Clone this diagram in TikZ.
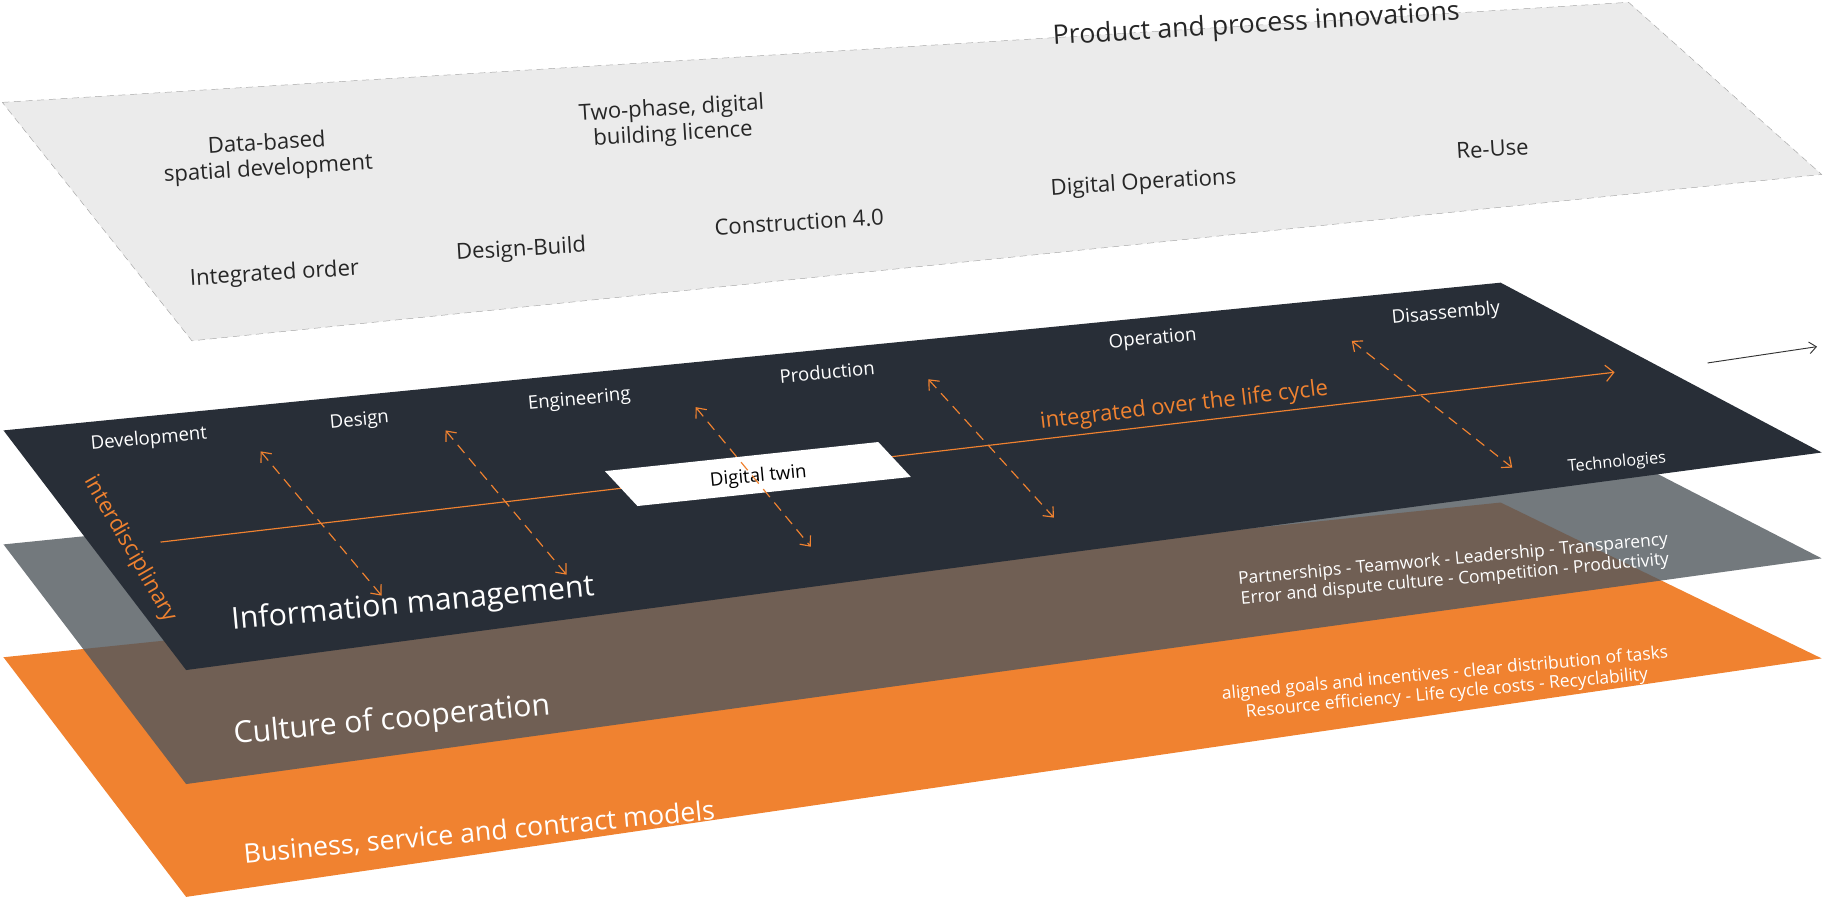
\documentclass[tikz,border=0pt]{standalone}
\usepackage{fontspec}
\setmainfont{Open Sans}
\usetikzlibrary{arrows.meta}
\definecolor{dark}{HTML}{282E37}
\definecolor{org}{HTML}{F08230}
\definecolor{gpl}{HTML}{50575D}
\definecolor{top}{HTML}{EBEBEB}
\begin{document}
\begin{tikzpicture}[x=1pt,y=-1pt,
 tl/.style={font=\fontsize{19}{22}\selectfont, text=black!85, align=center, rotate=3.5},
 st/.style={font=\fontsize{16}{18}\selectfont, text=white, rotate=5.3},
 big/.style={font=\fontsize{26}{30}\selectfont, text=white, rotate=5.3},
 sm/.style={font=\fontsize{15}{17}\selectfont, text=white, align=center, rotate=5.3},
 da/.style={org, dash pattern=on 9pt off 6pt, line width=1pt, {Straight Barb[length=7pt,width=12pt]}-{Straight Barb[length=7pt,width=12pt]}}]
\useasboundingbox (0,0) rectangle (1568,794);
% orange plane
\fill[org] (3,565) -- (1290,432) -- (1566,566) -- (160,771) -- cycle;
% gray plane
\fill[gpl, opacity=0.8] (3,468) -- (1290,338) -- (1566,480) -- (160,674) -- cycle;
% dark plane
\fill[dark] (3,370) -- (1290,243) -- (1566,389) -- (160,576) -- cycle;
% top plane
\draw[fill=top, draw=black!35, dashed, dash pattern=on 6pt off 4pt] (2,88) -- (1400,2) -- (1566,150) -- (165,293) -- cycle;
% top labels
\node[tl, font=\fontsize{23}{26}\selectfont] (t0) at (1080,22) {Product and process innovations};
\node[tl] (t1) at (230,135) {Data-based\\spatial development};
\node[tl] (t2) at (578,105) {Two-phase, digital\\building licence};
\node[tl] (t3) at (1283,128) {Re-Use};
\node[tl] (t4) at (983,158) {Digital Operations};
\node[tl] (t5) at (687,191) {Construction 4.0};
\node[tl] (t6) at (448,215) {Design-Build};
\node[tl] (t7) at (236,236) {Integrated order};
% dark plane labels
\node[st] (p1) at (128,378) {Development};
\node[st] (p2) at (309,362) {Design};
\node[st] (p3) at (498,344) {Engineering};
\node[st] (p4) at (711,320) {Production};
\node[st] (p5) at (991,292) {Operation};
\node[st] (p6) at (1243,270) {Disassembly};
\node[st, font=\fontsize{14}{16}\selectfont] (p7) at (1390,398) {Technologies};
% life cycle line
\coordinate (ls) at (138,466);
\coordinate (le) at (1388,320);
\draw[org, line width=1pt, -{Straight Barb[length=7pt,width=14pt]}] (ls) -- (le);
\node[st, text=org, font=\fontsize{19}{22}\selectfont, rotate=1.4] (lc) at (1018,349) {integrated over the life cycle};
% digital twin
\fill[white] (520,405) -- (755,380) -- (783,410) -- (548,435) -- cycle;
\node[font=\fontsize{16}{18}\selectfont, rotate=5.3] (dt) at (652,410) {Digital twin};
\node[text=org, font=\fontsize{19}{22}\selectfont, rotate=-60] (id) at (112,472) {interdisciplinary};
% dashed double arrows
\coordinate (a1) at (224,388); \coordinate (b1) at (328,512);
\coordinate (a2) at (383,370); \coordinate (b2) at (487,494);
\coordinate (a3) at (598,350); \coordinate (b3) at (697,470);
\coordinate (a4) at (798,326); \coordinate (b4) at (906,445);
\coordinate (a5) at (1162,293); \coordinate (b5) at (1300,402);
\foreach \i in {1,...,5} \draw[da] (a\i) -- (b\i);
% layer titles
\node[big] (im) at (355,520) {Information management};
\node[big] (cc) at (337,620) {Culture of cooperation};
\node[big, font=\fontsize{23}{26}\selectfont] (bs) at (412,716) {Business, service and contract models};
\node[sm] (cu) at (1250,490) {Partnerships - Teamwork - Leadership - Transparency\\Error and dispute culture - Competition - Productivity};
\node[sm] (bu) at (1243,588) {aligned goals and incentives - clear distribution of tasks\\Resource efficiency - Life cycle costs - Recyclability};
% black arrow
\coordinate (k1) at (1468,312); \coordinate (k2) at (1562,298);
\draw[black!80, line width=0.8pt, -{Straight Barb[length=6pt,width=10pt]}] (k1) -- (k2);
\end{tikzpicture}
\end{document}
